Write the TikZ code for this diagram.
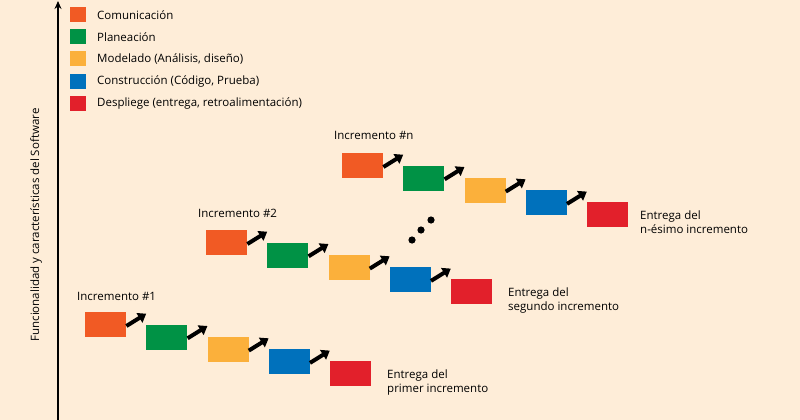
\documentclass[tikz,border=0pt]{standalone}
\usepackage{fontspec}
\setmainfont{Open Sans}
\usetikzlibrary{arrows.meta}
\definecolor{bg}{RGB}{254,237,216}
\definecolor{cO}{RGB}{241,90,36}
\definecolor{cG}{RGB}{0,146,69}
\definecolor{cY}{RGB}{251,176,59}
\definecolor{cB}{RGB}{0,113,188}
\definecolor{cR}{RGB}{226,32,43}
\begin{document}
\begin{tikzpicture}[x=1pt,y=-1pt,
  blk/.style={minimum width=41pt,minimum height=25pt,inner sep=0pt,anchor=north west},
  lg/.style={minimum width=16pt,minimum height=15pt,inner sep=0pt},
  txt/.style={font=\fontsize{11.5}{14}\selectfont,inner sep=0pt,anchor=west,align=left},
  arr/.style={line width=4pt,-{Triangle[length=8pt,width=11pt]}}]
\fill[bg] (0,0) rectangle (800,420);
\useasboundingbox (0,0) rectangle (800,420);
\coordinate (ab) at (58,420);
\coordinate (at) at (58,1);
\draw[line width=1.2pt,-{Stealth[length=8pt,width=7pt]}] (ab) -- (at);
\node[txt,anchor=center,rotate=90] (ylab) at (36,225) {Funcionalidad y características del Software};
% legend
\foreach \c/\t [count=\i] in {cO/Comunicación,cG/Planeación,cY/{Modelado (Análisis, diseño)},cB/{Construcción (Código, Prueba)},cR/{Despliege (entrega, retroalimentación)}}{
  \node[lg,fill=\c] (l\i) at (78,{15+22*(\i-1)}) {};
  \node[txt] (lt\i) at (97,{15+22*(\i-1)}) {\t};
}
% increments
\foreach \n/\x/\y in {a/85/312,b/206/230,c/342/153}{
  \foreach \c [count=\i] in {cO,cG,cY,cB,cR}{
    \node[blk,fill=\c] (\n\i) at ({\x+61.2*(\i-1)},{\y+12.3*(\i-1)}) {};
  }
  \foreach \i/\j in {1/2,2/3,3/4,4/5}{
    \draw[arr] ([yshift=-14pt]\n\i.north east) -- ([yshift=-1.7pt]\n\i.north east -| \n\j.west);
  }
}
\node[txt] (ia) at (77,296) {Incremento \#1};
\node[txt] (ib) at (198,213) {Incremento \#2};
\node[txt] (ic) at (334,135) {Incremento \#n};
\node[txt,anchor=north west] (ea) at (387,370) {Entrega del\\primer incremento};
\node[txt,anchor=north west] (eb) at (508,288) {Entrega del\\segundo incremento};
\node[txt,anchor=north west] (ec) at (640,211) {Entrega del\\n-ésimo incremento};
\foreach \x/\y [count=\i] in {412/240,421/230,431/220}
  \fill (\x,\y) circle (3.6pt) coordinate (d\i);
\end{tikzpicture}
\end{document}
